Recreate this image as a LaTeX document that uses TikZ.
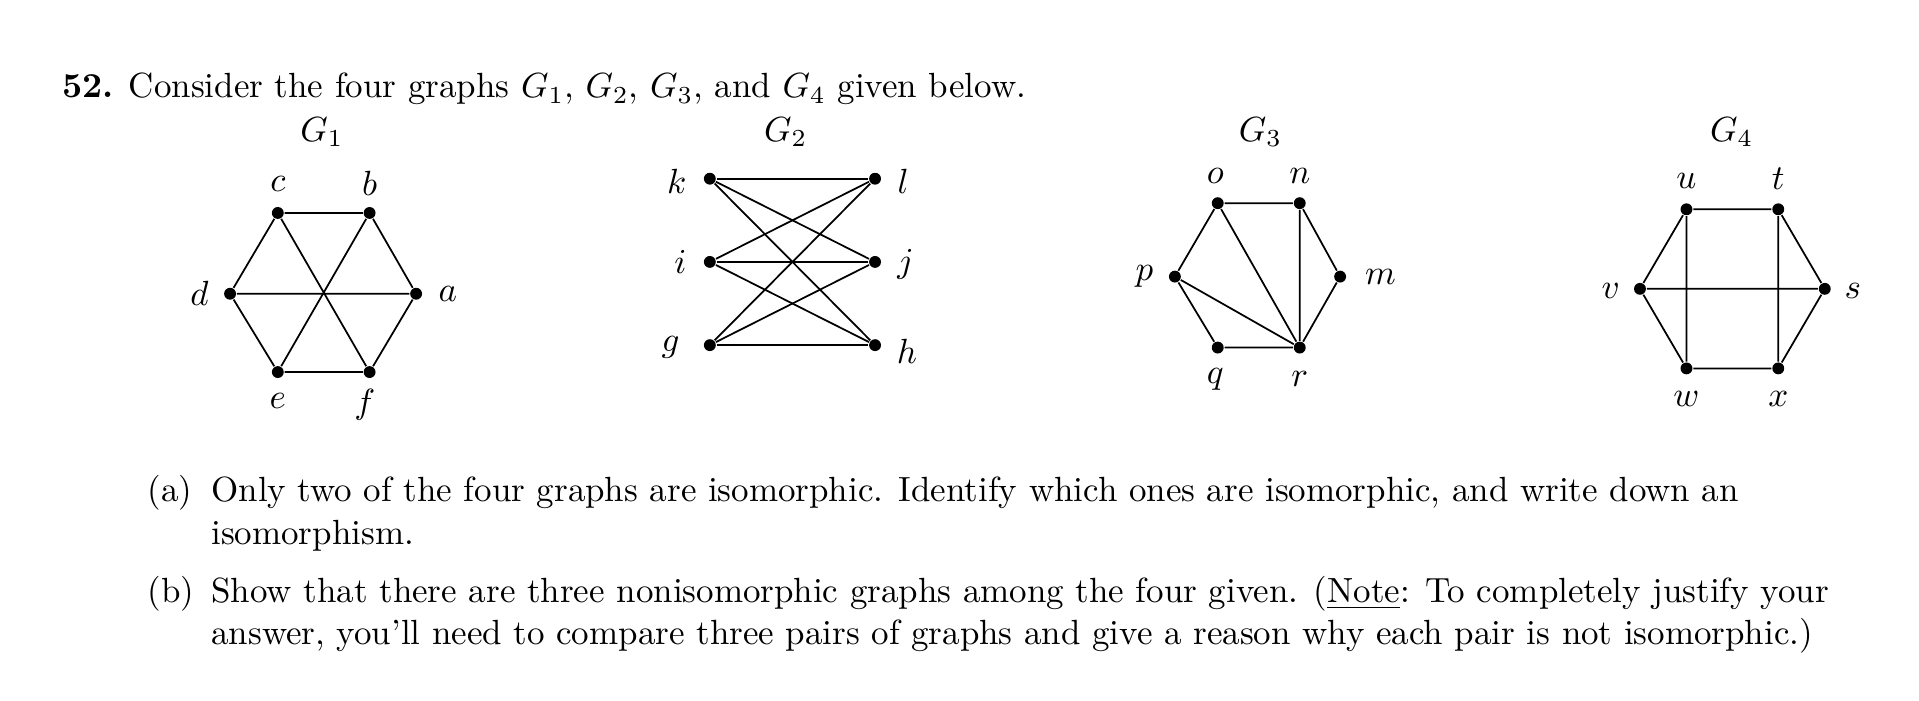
\documentclass[tikz,border=0pt]{standalone}
\begin{document}
\begin{tikzpicture}[x=0.35pt,y=-0.35pt,
  v/.style={circle,fill=black,inner sep=0pt,minimum size=3.4pt},
  lab/.style={inner sep=0pt},
  txt/.style={anchor=base west,inner sep=0pt},
  every path/.style={line width=0.5pt}]
\useasboundingbox (0,0) rectangle (1568,572);
\node[txt] (title) at (50,80) {\textbf{52.} Consider the four graphs $G_1$, $G_2$, $G_3$, and $G_4$ given below.};
% G1
\node[lab] (G1) at (263,108) {$G_1$};
\foreach \n/\x/\y/\lx/\ly in {c/227/174/227/150, b/302/174/302/150, d/188/240/163/240, a/340/240/366/240, e/227/304/227/328, f/302/304/298/331}{
  \node[v] (\n) at (\x,\y) {}; \node[lab] (l\n) at (\lx,\ly) {$\n$};}
\draw (c)--(b)--(a)--(f)--(e)--(d)--(c) (c)--(f) (b)--(e) (d)--(a);
% G2
\node[lab] (G2) at (642,108) {$G_2$};
\foreach \n/\x/\y/\lx/\ly in {k/580/146/553/148, l/715/146/738/148, i/580/214/556/214, j/715/214/740/216, g/580/282/548/284, h/715/282/741/287}{
  \node[v] (\n) at (\x,\y) {}; \node[lab] (l\n) at (\lx,\ly) {$\n$};}
\foreach \p in {k,i,g}{\foreach \q in {l,j,h}{\draw (\p)--(\q);}}
% G3
\node[lab] (G3) at (1030,108) {$G_3$};
\foreach \n/\x/\y/\lx/\ly in {o/995/166/993/144, n/1062/166/1062/144, p/960/226/935/226, m/1095/226/1128/226, q/995/284/993/310, r/1062/284/1062/310}{
  \node[v] (\n) at (\x,\y) {}; \node[lab] (l\n) at (\lx,\ly) {$\n$};}
\draw (o)--(n)--(m)--(r)--(q)--(p)--(o) (o)--(r) (n)--(r) (p)--(r);
% G4
\node[lab] (G4) at (1415,108) {$G_4$};
\foreach \n/\x/\y/\lx/\ly in {u/1378/171/1378/148, t/1453/171/1453/146, v/1340/236/1316/238, s/1491/236/1514/238, w/1378/301/1378/326, x/1453/301/1453/326}{
  \node[v] (\n) at (\x,\y) {}; \node[lab] (l\n) at (\lx,\ly) {$\n$};}
\draw (u)--(t)--(s)--(x)--(w)--(v)--(u) (u)--(w) (t)--(x) (v)--(s);
% text
\node[txt] (pa) at (120,410) {(a)};
\node[txt] (ta) at (172,410) {Only two of the four graphs are isomorphic. Identify which ones are isomorphic, and write down an};
\node[txt] (ta2) at (172,445) {isomorphism.};
\node[txt] (pb) at (120,492) {(b)};
\node[txt] (tb) at (172,492) {Show that there are three nonisomorphic graphs among the four given. (\underline{Note}: To completely justify your};
\node[txt] (tb2) at (172,527) {answer, you'll need to compare three pairs of graphs and give a reason why each pair is not isomorphic.)};
\end{tikzpicture}
\end{document}
